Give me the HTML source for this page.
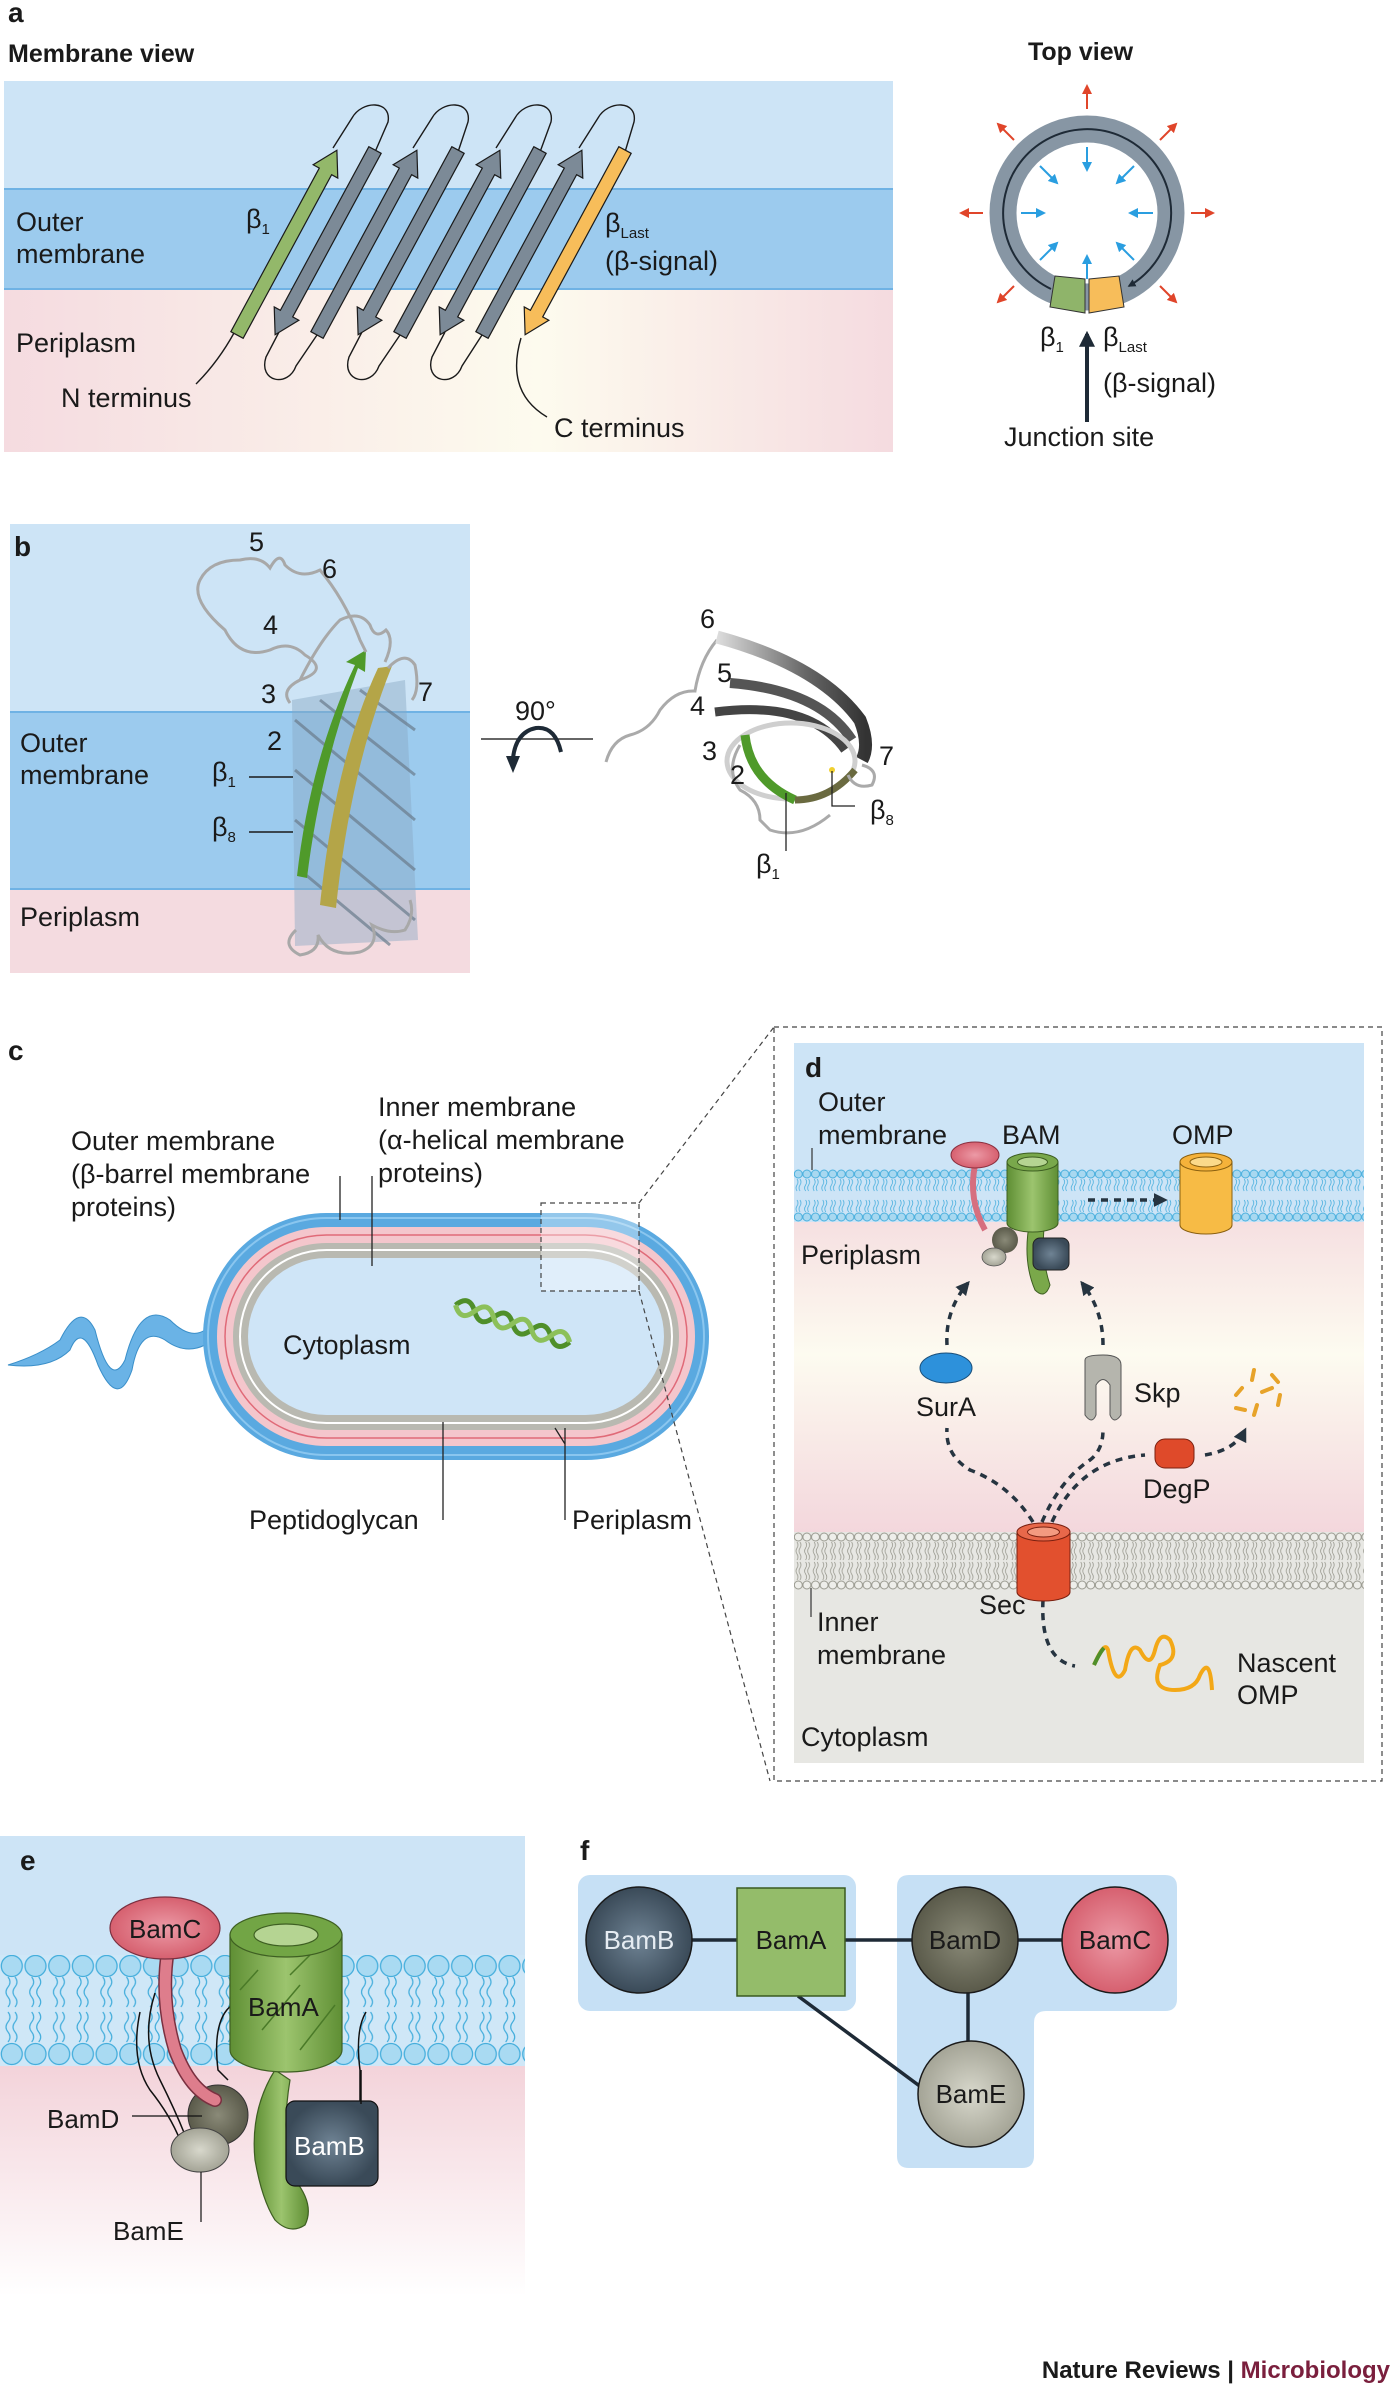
<!DOCTYPE html>
<html><head><meta charset="utf-8"><style>
html,body{margin:0;padding:0;background:#fff}
svg{display:block}
text{font-family:"Liberation Sans",sans-serif;fill:#1a1a1a}
</style></head><body>
<svg width="1395" height="2386" viewBox="0 0 1395 2386" xmlns="http://www.w3.org/2000/svg">
<defs>
<linearGradient id="peri" x1="0" x2="1" y1="0" y2="0"><stop offset="0" stop-color="#f5dbe0"/><stop offset="0.6" stop-color="#fdfbee"/><stop offset="1" stop-color="#f5dbe0"/></linearGradient>
<linearGradient id="periV" x1="0" x2="0" y1="0" y2="1"><stop offset="0" stop-color="#f3d6dc"/><stop offset="0.5" stop-color="#fdfbf0"/><stop offset="1" stop-color="#f3d6dc"/></linearGradient>
<linearGradient id="eFade" x1="0" x2="0" y1="0" y2="1"><stop offset="0" stop-color="#f3d3da"/><stop offset="1" stop-color="#ffffff"/></linearGradient>
<linearGradient id="grn" x1="0" x2="1"><stop offset="0" stop-color="#5f8f34"/><stop offset="0.5" stop-color="#9cc46e"/><stop offset="1" stop-color="#5f8f34"/></linearGradient>
<linearGradient id="ribbon" x1="0" x2="1"><stop offset="0" stop-color="#ddd"/><stop offset="0.6" stop-color="#666"/><stop offset="1" stop-color="#333"/></linearGradient>
<radialGradient id="gB"><stop offset="0" stop-color="#6f8394"/><stop offset="1" stop-color="#3a4a58"/></radialGradient>
<radialGradient id="gD"><stop offset="0" stop-color="#8a8a78"/><stop offset="1" stop-color="#5a5a4a"/></radialGradient>
<radialGradient id="gC"><stop offset="0" stop-color="#ec9aa6"/><stop offset="1" stop-color="#d6606f"/></radialGradient>
<radialGradient id="gE"><stop offset="0" stop-color="#d8d8cc"/><stop offset="1" stop-color="#a4a496"/></radialGradient>
<pattern id="memD" x="794" y="1169" width="8.6" height="53" patternUnits="userSpaceOnUse">
<circle cx="4.3" cy="5" r="4" fill="#a8d8f0" stroke="#4bb0de" stroke-width="1"/>
<circle cx="4.3" cy="48" r="4" fill="#a8d8f0" stroke="#4bb0de" stroke-width="1"/>
<path d="M3 10 q2 3 0 6 q-2 3 0 6 M6 10 q2 3 0 6 q-2 3 0 6 M3 31 q2 3 0 6 q-2 3 0 6 M6 31 q2 3 0 6 q-2 3 0 6" stroke="#4bb0de" fill="none" stroke-width="0.8"/>
</pattern>
<pattern id="memI" x="794" y="1532" width="8.6" height="58" patternUnits="userSpaceOnUse">
<circle cx="4.3" cy="5" r="4" fill="#eeeeea" stroke="#9a9a90" stroke-width="1"/>
<circle cx="4.3" cy="53" r="4" fill="#eeeeea" stroke="#9a9a90" stroke-width="1"/>
<path d="M3 10 q2 3 0 6 q-2 3 0 6 q2 3 0 6 M6 10 q2 3 0 6 q-2 3 0 6 q2 3 0 6 M3 30 q2 3 0 6 q-2 3 0 6 q2 3 0 6 M6 30 q2 3 0 6 q-2 3 0 6 q2 3 0 6" stroke="#9a9a90" fill="none" stroke-width="0.8"/>
</pattern>
<pattern id="memE" x="0" y="1955" width="23.7" height="111" patternUnits="userSpaceOnUse">
<circle cx="11.8" cy="11" r="10.5" fill="#a9daf2" stroke="#45aedc" stroke-width="1.3"/>
<circle cx="11.8" cy="99" r="10.5" fill="#a9daf2" stroke="#45aedc" stroke-width="1.3"/>
<path d="M8 22 q4 5 0 10 q-4 5 0 10 q4 5 0 10 M15 22 q4 5 0 10 q-4 5 0 10 q4 5 0 10 M8 57 q4 5 0 10 q-4 5 0 10 q4 5 0 10 M15 57 q4 5 0 10 q-4 5 0 10 q4 5 0 10" stroke="#45aedc" fill="none" stroke-width="1.2"/>
</pattern>
<marker id="ah" viewBox="0 0 10 10" refX="8" refY="5" markerWidth="4" markerHeight="4" orient="auto"><path d="M0 0 L10 5 L0 10 z" fill="#263440"/></marker>
<marker id="ahR" viewBox="0 0 10 10" refX="8" refY="5" markerWidth="5" markerHeight="5" orient="auto"><path d="M0 0 L10 5 L0 10 z" fill="#e0452a"/></marker>
<marker id="ahB" viewBox="0 0 10 10" refX="8" refY="5" markerWidth="5" markerHeight="5" orient="auto"><path d="M0 0 L10 5 L0 10 z" fill="#2a9ee0"/></marker>
<marker id="ahK" viewBox="0 0 10 10" refX="8" refY="5" markerWidth="4" markerHeight="4" orient="auto"><path d="M0 0 L10 5 L0 10 z" fill="#1e2a36"/></marker>
<polygon id="strand" points="-7,0 7,0 7,-186 14,-186 0,-210 -14,-186 -7,-186" stroke="#1a1a1a" stroke-width="1.2"/>
</defs>

<!-- ===== Panel a ===== -->
<text x="8" y="22" font-size="28" font-weight="bold">a</text>
<text x="8" y="62" font-size="25" font-weight="bold">Membrane view</text>
<rect x="4" y="81" width="889" height="108" fill="#cde4f6"/>
<rect x="4" y="189" width="889" height="100" fill="#9ccbee"/>
<line x1="4" y1="189" x2="893" y2="189" stroke="#6fb2e4" stroke-width="2"/>
<line x1="4" y1="289" x2="893" y2="289" stroke="#6fb2e4" stroke-width="2"/>
<rect x="4" y="290" width="889" height="162" fill="url(#peri)"/>
<text x="16" y="231" font-size="27">Outer</text>
<text x="16" y="263" font-size="27">membrane</text>
<text x="16" y="352" font-size="27">Periplasm</text>
<text x="61" y="407" font-size="27">N terminus</text>
<text x="554" y="437" font-size="27">C terminus</text>
<text x="246" y="228" font-size="27">β<tspan font-size="15" dy="6">1</tspan></text>
<text x="605" y="232" font-size="27">β<tspan font-size="15" dy="6">Last</tspan></text>
<text x="605" y="270" font-size="27">(β-signal)</text>
<g fill="none" stroke="#1a1a1a" stroke-width="1.4">
<path d="M333 148 L352 118 C362 100 392 100 388 122 L375 152"/>
<path d="M413 148 L432 118 C442 100 472 100 468 122 L458 152"/>
<path d="M496 148 L515 118 C525 100 555 100 551 122 L540 152"/>
<path d="M579 148 L598 118 C608 100 638 100 634 122 L625 152"/>
<path d="M279 332 L266 357 C258 382 288 388 296 366 L317 335"/>
<path d="M362 332 L349 357 C341 382 371 388 379 366 L400 335"/>
<path d="M445 332 L432 357 C424 382 454 388 462 366 L482 335"/>
<path d="M234 333 Q218 362 196 384"/>
<path d="M521 338 Q505 392 547 417"/>
</g>
<use href="#strand" transform="translate(237,335) rotate(28.4)" fill="#93b86a"/>
<use href="#strand" transform="translate(317,335) rotate(28.4)" fill="#7c8a97"/>
<use href="#strand" transform="translate(400,335) rotate(28.4)" fill="#7c8a97"/>
<use href="#strand" transform="translate(482,335) rotate(28.4)" fill="#7c8a97"/>
<use href="#strand" transform="translate(375,150) rotate(208.4)" fill="#7c8a97"/>
<use href="#strand" transform="translate(458,150) rotate(208.4)" fill="#7c8a97"/>
<use href="#strand" transform="translate(540,150) rotate(208.4)" fill="#7c8a97"/>
<use href="#strand" transform="translate(625,150) rotate(208.4)" fill="#f7bd5a"/>
<!-- top view -->
<text x="1028" y="60" font-size="25" font-weight="bold">Top view</text>
<circle cx="1087" cy="213" r="84" fill="none" stroke="#8796a4" stroke-width="27"/>
<path d="M1051 289 A84 84 0 1 1 1129 286" fill="none" stroke="#1e2a36" stroke-width="2" marker-end="url(#ahK)"/>
<path d="M1055 276 L1085 279 L1085 313 L1050 307 z" fill="#8fb46a" stroke="#333" stroke-width="1"/>
<path d="M1089 279 L1119 276 L1124 307 L1089 313 z" fill="#f7bd5a" stroke="#333" stroke-width="1"/>
<g stroke="#2a9ee0" stroke-width="2" marker-end="url(#ahB)">
<line x1="1087" y1="147" x2="1087" y2="170"/><line x1="1087" y1="279" x2="1087" y2="256"/>
<line x1="1021" y1="213" x2="1044" y2="213"/><line x1="1153" y1="213" x2="1130" y2="213"/>
<line x1="1040" y1="166" x2="1057" y2="183"/><line x1="1134" y1="166" x2="1117" y2="183"/>
<line x1="1040" y1="260" x2="1057" y2="243"/><line x1="1134" y1="260" x2="1117" y2="243"/>
</g>
<g stroke="#e0452a" stroke-width="2" marker-end="url(#ahR)">
<line x1="1087" y1="109" x2="1087" y2="86"/><line x1="983" y1="213" x2="961" y2="213"/><line x1="1191" y1="213" x2="1213" y2="213"/>
<line x1="1014" y1="140" x2="998" y2="124"/><line x1="1160" y1="140" x2="1176" y2="124"/>
<line x1="1014" y1="286" x2="998" y2="302"/><line x1="1160" y1="286" x2="1176" y2="302"/>
</g>
<line x1="1087" y1="422" x2="1087" y2="334" stroke="#1e2a36" stroke-width="4" marker-end="url(#ahK)"/>
<text x="1040" y="346" font-size="27">β<tspan font-size="15" dy="6">1</tspan></text>
<text x="1103" y="346" font-size="27">β<tspan font-size="15" dy="6">Last</tspan></text>
<text x="1103" y="392" font-size="27">(β-signal)</text>
<text x="1004" y="446" font-size="27">Junction site</text>

<!-- ===== Panel b ===== -->
<rect x="10" y="524" width="460" height="188" fill="#cde4f6"/>
<rect x="10" y="712" width="460" height="177" fill="#9ccbee"/>
<line x1="10" y1="712" x2="470" y2="712" stroke="#6fb2e4" stroke-width="2"/>
<line x1="10" y1="889" x2="470" y2="889" stroke="#6fb2e4" stroke-width="2"/>
<rect x="10" y="890" width="460" height="83" fill="#f4dbe0"/>
<text x="14" y="556" font-size="28" font-weight="bold">b</text>
<text x="20" y="752" font-size="27">Outer</text>
<text x="20" y="784" font-size="27">membrane</text>
<text x="20" y="926" font-size="27">Periplasm</text>
<!-- barrel -->
<path d="M292 700 L405 680 L418 940 L295 946 z" fill="#8aa9c4" opacity="0.45"/>
<g stroke="#6a7c8c" stroke-width="3" fill="none" opacity="0.7">
<path d="M295 720 L415 820"/><path d="M295 770 L415 870"/><path d="M295 820 L415 920"/><path d="M300 870 L390 945"/><path d="M320 700 L415 775"/><path d="M360 690 L415 730"/>
</g>
<path d="M297 876 Q310 760 355 665 L346 662 L366 650 L365 672 L358 668 Q320 770 307 878 z" fill="#4f9a2a"/>
<path d="M320 905 Q335 760 378 668 L392 666 Q350 770 336 908 z" fill="#b4a548"/>
<g fill="none" stroke="#a8a8a8" stroke-width="3">
<path d="M290 703 Q280 690 300 680 Q330 670 305 655 Q290 640 270 650 Q240 660 225 630 Q190 600 200 580 Q210 560 240 560 Q260 555 270 568 Q280 550 285 565 Q300 580 320 570 Q345 600 360 640 L366 652"/>
<path d="M300 680 Q320 640 340 620 Q360 610 370 625 Q375 640 386 630 Q395 640 385 662"/>
<path d="M388 668 Q405 650 415 665 Q420 690 412 700"/>
<path d="M296 930 Q280 945 300 955 Q320 952 318 935 Q330 958 360 952 Q380 945 372 925 Q390 935 405 930 Q415 915 410 900"/>
</g>
<text x="249" y="551" font-size="27">5</text>
<text x="322" y="578" font-size="27">6</text>
<text x="263" y="634" font-size="27">4</text>
<text x="261" y="703" font-size="27">3</text>
<text x="418" y="701" font-size="27">7</text>
<text x="267" y="750" font-size="27">2</text>
<text x="212" y="781" font-size="27">β<tspan font-size="15" dy="6">1</tspan></text>
<text x="212" y="836" font-size="27">β<tspan font-size="15" dy="6">8</tspan></text>
<line x1="249" y1="777" x2="293" y2="777" stroke="#1a1a1a" stroke-width="1.5"/>
<line x1="249" y1="832" x2="293" y2="832" stroke="#1a1a1a" stroke-width="1.5"/>
<!-- rotation -->
<line x1="481" y1="739" x2="593" y2="739" stroke="#333" stroke-width="1.5"/>
<text x="515" y="720" font-size="27">90°</text>
<path d="M561 752 Q555 726 536 728 Q516 732 513 758" fill="none" stroke="#1e2a36" stroke-width="4"/>
<path d="M506 756 L513 773 L520 756 z" fill="#1e2a36"/>
<!-- top structure -->
<g fill="none">
<path d="M606 762 Q612 740 630 735 Q650 730 660 710 Q675 690 695 691 Q700 660 717 640" stroke="#aaa" stroke-width="3"/>
<path d="M717 637 Q820 665 860 720 Q870 745 862 760" stroke="url(#ribbon)" stroke-width="13"/>
<path d="M730 683 Q820 690 852 740" stroke="#555" stroke-width="10"/>
<path d="M715 712 Q810 700 845 750" stroke="#444" stroke-width="9"/>
<ellipse cx="791" cy="761" rx="64" ry="38" stroke="#cfcfcf" stroke-width="5"/>
<path d="M745 735 Q750 780 795 800" stroke="#4f9a2a" stroke-width="9"/>
<path d="M795 800 Q830 800 855 770" stroke="#6a6a40" stroke-width="7"/>
<path d="M740 745 Q725 770 740 790 Q760 800 760 820 L770 830 Q800 840 830 815" stroke="#aaa" stroke-width="3"/>
<path d="M862 765 Q880 770 872 785 Q855 790 848 775" stroke="#aaa" stroke-width="3"/>
</g>
<circle cx="832" cy="770" r="3" fill="#f0d030"/>
<text x="700" y="628" font-size="27">6</text>
<text x="717" y="682" font-size="27">5</text>
<text x="690" y="715" font-size="27">4</text>
<text x="702" y="760" font-size="27">3</text>
<text x="730" y="784" font-size="27">2</text>
<text x="879" y="765" font-size="27">7</text>
<text x="870" y="819" font-size="27">β<tspan font-size="15" dy="6">8</tspan></text>
<text x="756" y="873" font-size="27">β<tspan font-size="15" dy="6">1</tspan></text>
<path d="M832 771 L832 806 L855 806" fill="none" stroke="#222" stroke-width="1.3"/>
<line x1="786" y1="793" x2="786" y2="851" stroke="#222" stroke-width="1.3"/>

<!-- ===== Panel c ===== -->
<text x="8" y="1060" font-size="28" font-weight="bold">c</text>
<path d="M8 1365 Q40 1355 60 1340 Q80 1300 95 1330 Q110 1390 125 1360 Q140 1300 170 1320 Q190 1340 205 1330 L205 1345 Q185 1355 165 1340 Q140 1325 132 1370 Q118 1410 98 1365 Q82 1320 70 1350 Q50 1370 8 1365 z" fill="#6ab3e6" stroke="#3a8fc9" stroke-width="1"/>
<rect x="203" y="1213" width="506" height="247" rx="123.5" fill="#5aa9e0"/>
<rect x="208" y="1218" width="496" height="237" rx="118.5" fill="none" stroke="#8ac6ef" stroke-width="2"/>
<rect x="217" y="1227" width="478" height="219" rx="109.5" fill="#f4c6cc"/>
<rect x="225" y="1235" width="462" height="203" rx="101.5" fill="none" stroke="#e06a78" stroke-width="1.5"/>
<rect x="233" y="1243" width="446" height="187" rx="93.5" fill="#b9b9b1"/>
<rect x="240" y="1250" width="432" height="173" rx="86.5" fill="none" stroke="#fff" stroke-width="2"/>
<rect x="248" y="1258" width="416" height="157" rx="78.5" fill="#cfe5f7"/>
<rect x="541" y="1203" width="98" height="88" fill="#ffffff" opacity="0.35"/>
<rect x="541" y="1203" width="98" height="88" fill="none" stroke="#444" stroke-width="1.2" stroke-dasharray="5 4"/>
<line x1="639" y1="1203" x2="774" y2="1027" stroke="#444" stroke-width="1.2" stroke-dasharray="5 4"/>
<line x1="639" y1="1291" x2="770" y2="1781" stroke="#444" stroke-width="1.2" stroke-dasharray="5 4"/>
<g fill="none" stroke-width="5">
<path d="M450 1320 q10 -15 20 0 q10 15 20 0 q10 -15 20 0 q10 15 20 0 q10 -15 20 0 q10 15 20 0" stroke="#4f8f2a" transform="rotate(18 500 1330)"/>
<path d="M450 1320 q10 15 20 0 q10 -15 20 0 q10 15 20 0 q10 -15 20 0 q10 15 20 0 q10 -15 20 0" stroke="#8cc05a" transform="rotate(18 500 1330)"/>
</g>
<text x="283" y="1354" font-size="27">Cytoplasm</text>
<text x="71" y="1150" font-size="27">Outer membrane</text>
<text x="71" y="1183" font-size="27">(β-barrel membrane</text>
<text x="71" y="1216" font-size="27">proteins)</text>
<text x="378" y="1116" font-size="27">Inner membrane</text>
<text x="378" y="1149" font-size="27">(α-helical membrane</text>
<text x="378" y="1182" font-size="27">proteins)</text>
<text x="249" y="1529" font-size="27">Peptidoglycan</text>
<text x="572" y="1529" font-size="27">Periplasm</text>
<g stroke="#222" stroke-width="1.3" fill="none">
<line x1="340" y1="1176" x2="340" y2="1220"/>
<line x1="372" y1="1176" x2="372" y2="1266"/>
<line x1="443" y1="1422" x2="443" y2="1520"/>
<path d="M565 1520 L565 1428 M565 1444 L555 1428"/>
</g>

<!-- ===== Panel d ===== -->
<rect x="774" y="1027" width="608" height="754" fill="none" stroke="#444" stroke-width="1.2" stroke-dasharray="5 4"/>
<rect x="794" y="1043" width="570" height="130" fill="#cde4f6"/>
<rect x="794" y="1173" width="570" height="363" fill="url(#periV)"/>
<rect x="794" y="1536" width="570" height="227" fill="#e7e7e3"/>
<rect x="794" y="1169" width="570" height="53" fill="#cde4f6"/>
<rect x="794" y="1169" width="570" height="53" fill="url(#memD)"/>
<rect x="794" y="1532" width="570" height="58" fill="#e7e7e3"/>
<rect x="794" y="1532" width="570" height="58" fill="url(#memI)"/>
<text x="805" y="1077" font-size="28" font-weight="bold">d</text>
<text x="818" y="1111" font-size="27">Outer</text>
<text x="818" y="1144" font-size="27">membrane</text>
<line x1="812" y1="1148" x2="812" y2="1170" stroke="#333" stroke-width="1.2"/>
<text x="1002" y="1144" font-size="27">BAM</text>
<text x="1172" y="1144" font-size="27">OMP</text>
<text x="801" y="1264" font-size="27">Periplasm</text>
<path d="M1030 1220 Q1022 1260 1035 1290 Q1045 1300 1050 1285 Q1040 1255 1045 1220 z" fill="#7aa84a" stroke="#3e5f22" stroke-width="1"/>
<rect x="1033" y="1238" width="36" height="32" rx="7" fill="url(#gB)" stroke="#222" stroke-width="1"/>
<circle cx="1005" cy="1240" r="13" fill="url(#gD)"/>
<ellipse cx="994" cy="1257" rx="12" ry="9" fill="url(#gE)" stroke="#555" stroke-width="0.8"/>
<path d="M975 1165 Q968 1200 985 1230" stroke="#d66f7f" stroke-width="6" fill="none"/>
<ellipse cx="975" cy="1155" rx="24" ry="13" fill="url(#gC)" stroke="#8a3040" stroke-width="1"/>
<path d="M1007 1162 L1007 1223 A25.5 9 0 0 0 1058 1223 L1058 1162 z" fill="url(#grn)" stroke="#3e5f22" stroke-width="1"/>
<ellipse cx="1032.5" cy="1162" rx="25.5" ry="9" fill="#79a84b" stroke="#3e5f22" stroke-width="1"/>
<ellipse cx="1032.5" cy="1162" rx="15" ry="5" fill="#b5d492" stroke="#3e5f22" stroke-width="1"/>
<path d="M1180 1162 L1180 1225 A26 9 0 0 0 1232 1225 L1232 1162 z" fill="#f7bb45" stroke="#8a6010" stroke-width="1"/>
<ellipse cx="1206" cy="1162" rx="26" ry="9" fill="#f5b23a" stroke="#8a6010" stroke-width="1"/>
<ellipse cx="1206" cy="1162" rx="16" ry="5" fill="#fbd98a" stroke="#8a6010" stroke-width="1"/>
<line x1="1088" y1="1200" x2="1165" y2="1200" stroke="#263440" stroke-width="3.5" stroke-dasharray="7 6" marker-end="url(#ah)"/>
<ellipse cx="946" cy="1368" rx="26" ry="15" fill="#2d91db" stroke="#1a4f7a" stroke-width="1"/>
<text x="916" y="1416" font-size="27">SurA</text>
<path d="M1085 1360 Q1085 1355 1103 1355 Q1121 1355 1121 1365 L1121 1415 Q1114 1425 1110 1415 L1110 1385 Q1103 1374 1096 1385 L1096 1415 Q1092 1425 1085 1415 z" fill="#b5b5ad" stroke="#555" stroke-width="1"/>
<text x="1134" y="1402" font-size="27">Skp</text>
<rect x="1155" y="1439" width="39" height="29" rx="10" fill="#df4a2a" stroke="#7a2010" stroke-width="1"/>
<text x="1143" y="1498" font-size="27">DegP</text>
<g stroke="#e7a32a" stroke-width="4" stroke-linecap="round">
<line x1="1236" y1="1395" x2="1242" y2="1388"/><line x1="1252" y1="1380" x2="1254" y2="1370"/><line x1="1262" y1="1392" x2="1272" y2="1388"/><line x1="1236" y1="1408" x2="1245" y2="1410"/><line x1="1257" y1="1405" x2="1254" y2="1415"/><line x1="1272" y1="1375" x2="1278" y2="1382"/><line x1="1280" y1="1395" x2="1278" y2="1405"/></g>
<g fill="none" stroke="#263440" stroke-width="3.5" stroke-dasharray="7 6">
<path d="M1033 1522 Q1010 1485 970 1470 Q945 1455 947 1428"/>
<path d="M1042 1522 Q1060 1480 1090 1460 Q1103 1450 1103 1430"/>
<path d="M1052 1522 Q1080 1460 1145 1455"/>
<path d="M1205 1455 Q1235 1450 1245 1430" marker-end="url(#ah)"/>
<path d="M947 1345 Q945 1310 968 1283" marker-end="url(#ah)"/>
<path d="M1103 1345 Q1103 1310 1082 1283" marker-end="url(#ah)"/>
<path d="M1043 1600 Q1040 1660 1075 1666"/>
</g>
<path d="M1017 1532 L1017 1592 A26.5 9 0 0 0 1070 1592 L1070 1532 z" fill="#e2502e" stroke="#7a2010" stroke-width="1"/>
<ellipse cx="1043.5" cy="1532" rx="26.5" ry="9" fill="#e8684a" stroke="#7a2010" stroke-width="1"/>
<ellipse cx="1043.5" cy="1532" rx="16" ry="5" fill="#f39a80" stroke="#7a2010" stroke-width="1"/>
<text x="979" y="1614" font-size="27">Sec</text>
<text x="817" y="1631" font-size="27">Inner</text>
<text x="817" y="1664" font-size="27">membrane</text>
<line x1="811" y1="1588" x2="811" y2="1617" stroke="#333" stroke-width="1.2"/>
<path d="M1094 1665 Q1105 1640 1108 1650 Q1115 1690 1125 1670 Q1130 1640 1140 1650 Q1150 1670 1155 1650 Q1160 1630 1170 1640 Q1180 1660 1160 1665 Q1150 1690 1175 1690 Q1195 1690 1200 1675 Q1210 1655 1212 1690" fill="none" stroke="#f3a817" stroke-width="4"/>
<path d="M1094 1665 Q1100 1652 1104 1648" fill="none" stroke="#4f8f2a" stroke-width="4"/>
<text x="1237" y="1672" font-size="27">Nascent</text>
<text x="1237" y="1704" font-size="27">OMP</text>
<text x="801" y="1746" font-size="27">Cytoplasm</text>

<!-- ===== Panel e ===== -->
<rect x="0" y="1836" width="525" height="125" fill="#cde4f6"/>
<rect x="0" y="1955" width="525" height="111" fill="#cfe7f7"/>
<rect x="0" y="2066" width="525" height="230" fill="url(#eFade)"/>
<rect x="0" y="1955" width="525" height="111" fill="url(#memE)"/>
<text x="20" y="1870" font-size="28" font-weight="bold">e</text>
<g fill="none" stroke="#111" stroke-width="1.5">
<path d="M155 1993 Q140 2040 160 2080 Q175 2110 185 2135"/>
<path d="M140 2012 Q130 2060 150 2090 Q170 2115 180 2140"/>
<path d="M232 2005 Q212 2020 218 2070 L228 2080"/>
<path d="M366 2012 Q355 2030 360 2070 L360 2105"/>
</g>
<path d="M275 2070 Q250 2110 255 2160 Q262 2200 275 2220 Q290 2235 305 2225 Q315 2205 295 2180 Q280 2140 290 2080 z" fill="url(#grn)" stroke="#3e5f22" stroke-width="1.2"/>
<rect x="286" y="2101" width="92" height="85" rx="9" fill="url(#gB)" stroke="#111" stroke-width="1.2"/>
<text x="294" y="2155" font-size="26" style="fill:#fff">BamB</text>
<line x1="361" y1="2070" x2="361" y2="2104" stroke="#111" stroke-width="1.5"/>
<circle cx="218" cy="2115" r="30" fill="url(#gD)" stroke="#333" stroke-width="1"/>
<ellipse cx="200" cy="2150" rx="29" ry="22" fill="url(#gE)" stroke="#444" stroke-width="1"/>
<path d="M168 1950 Q160 2000 175 2050 Q190 2090 215 2100" fill="none" stroke="#7a3040" stroke-width="14" stroke-linecap="round"/>
<path d="M168 1950 Q160 2000 175 2050 Q190 2090 215 2100" fill="none" stroke="#de7d8c" stroke-width="11" stroke-linecap="round"/>
<ellipse cx="165" cy="1928" rx="55" ry="31" fill="url(#gC)" stroke="#7a3040" stroke-width="1.2"/>
<text x="129" y="1938" font-size="26">BamC</text>
<path d="M230 1935 L230 2050 A56 22 0 0 0 342 2050 L342 1935 z" fill="url(#grn)" stroke="#3e5f22" stroke-width="1.2"/>
<g stroke="#4a7a28" stroke-width="1.5"><line x1="240" y1="1990" x2="258" y2="1970"/><line x1="262" y1="2030" x2="300" y2="1985"/><line x1="300" y1="2050" x2="335" y2="2005"/><line x1="290" y1="1975" x2="310" y2="1955"/></g>
<ellipse cx="286" cy="1935" rx="56" ry="22" fill="#72a545" stroke="#3e5f22" stroke-width="1.2"/>
<ellipse cx="286" cy="1935" rx="32" ry="11" fill="#b5d492" stroke="#3e5f22" stroke-width="1.2"/>
<text x="248" y="2016" font-size="26">BamA</text>
<text x="47" y="2128" font-size="26">BamD</text>
<line x1="132" y1="2116" x2="202" y2="2116" stroke="#111" stroke-width="1.2"/>
<text x="113" y="2240" font-size="26">BamE</text>
<line x1="201" y1="2172" x2="201" y2="2222" stroke="#111" stroke-width="1.2"/>

<!-- ===== Panel f ===== -->
<text x="580" y="1860" font-size="28" font-weight="bold">f</text>
<rect x="578" y="1875" width="278" height="136" rx="12" fill="#c6e0f5"/>
<path d="M909 1875 L1165 1875 Q1177 1875 1177 1887 L1177 1999 Q1177 2011 1165 2011 L1046 2011 Q1034 2011 1034 2023 L1034 2156 Q1034 2168 1022 2168 L909 2168 Q897 2168 897 2156 L897 1887 Q897 1875 909 1875 z" fill="#c6e0f5"/>
<g stroke="#1e2a36" stroke-width="3.5">
<line x1="690" y1="1940" x2="737" y2="1940"/>
<line x1="845" y1="1940" x2="915" y2="1940"/>
<line x1="1015" y1="1940" x2="1065" y2="1940"/>
<line x1="968" y1="1990" x2="968" y2="2045"/>
<line x1="798" y1="1996" x2="925" y2="2090"/>
</g>
<circle cx="639" cy="1940" r="53" fill="url(#gB)" stroke="#1a1a1a" stroke-width="1.5"/>
<text x="639" y="1949" font-size="26" text-anchor="middle" style="fill:#e6ecf2">BamB</text>
<rect x="737" y="1888" width="108" height="108" fill="#94bc6a" stroke="#3a5a20" stroke-width="1.5"/>
<text x="791" y="1949" font-size="26" text-anchor="middle">BamA</text>
<circle cx="965" cy="1940" r="53" fill="url(#gD)" stroke="#1a1a1a" stroke-width="1.5"/>
<text x="965" y="1949" font-size="26" text-anchor="middle">BamD</text>
<circle cx="1115" cy="1940" r="53" fill="url(#gC)" stroke="#1a1a1a" stroke-width="1.5"/>
<text x="1115" y="1949" font-size="26" text-anchor="middle">BamC</text>
<circle cx="971" cy="2094" r="53" fill="url(#gE)" stroke="#1a1a1a" stroke-width="1.5"/>
<text x="971" y="2103" font-size="26" text-anchor="middle">BamE</text>

<text x="1390" y="2378" font-size="24" font-weight="bold" text-anchor="end">Nature Reviews | <tspan style="fill:#7a1f3d">Microbiology</tspan></text>
</svg>
</body></html>
